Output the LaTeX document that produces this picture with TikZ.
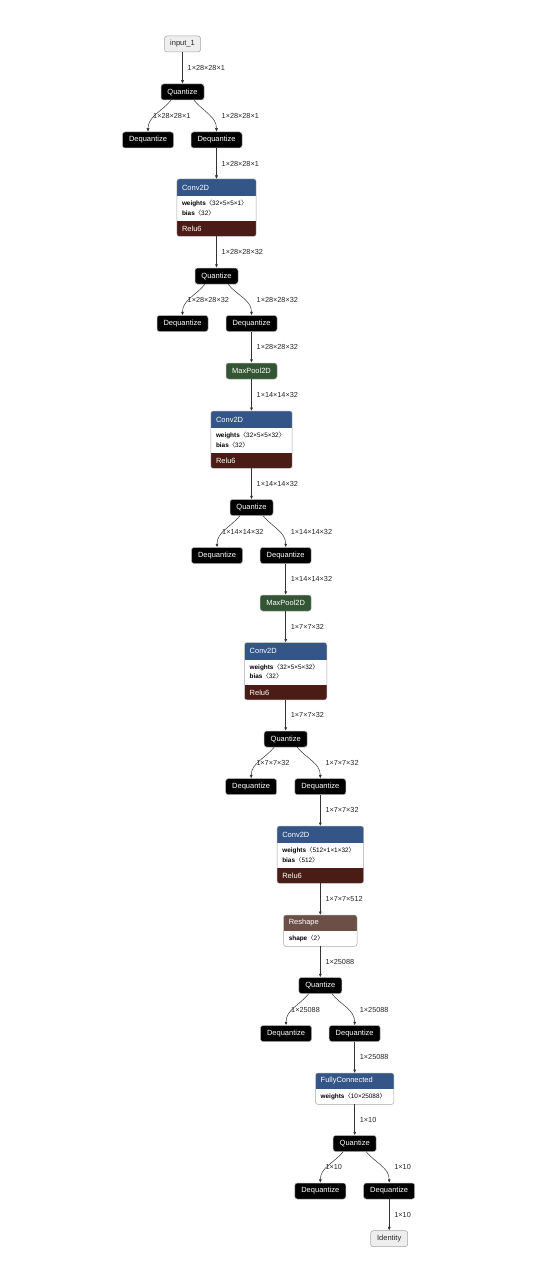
\documentclass[tikz,border=0pt]{standalone}
\usepackage{fontspec}
\setmainfont{Liberation Sans}
\newfontfamily\cjkf{Noto Sans CJK SC}
\usetikzlibrary{arrows.meta,calc}
\definecolor{layerblue}{RGB}{51,85,136}
\definecolor{actred}{RGB}{75,27,22}
\definecolor{poolgreen}{RGB}{51,85,51}
\definecolor{shapebrown}{RGB}{108,79,71}
\definecolor{iofill}{RGB}{238,238,238}
\newcommand\nodefont{\fontsize{7.5}{9}\selectfont}
\newcommand\lblfont{\fontsize{7.3}{8}\selectfont}
\newcommand\attrfont{\fontsize{6.4}{7}\selectfont}
\newcommand\br[1]{{\cjkf 〈}#1{\cjkf 〉}}
\tikzset{
  base/.style={rounded corners=2.5pt, inner sep=0pt, font=\nodefont},
  qnode/.style={base, fill=black, draw=gray!60, line width=0.5pt, text=white, minimum width=43pt, minimum height=16pt},
  dqnode/.style={qnode, minimum width=51pt},
  ionode/.style={base, fill=iofill, draw=gray!70, line width=0.5pt, text=black!85, minimum height=16pt},
  poolnode/.style={base, fill=poolgreen, draw=gray!60, line width=0.5pt, text=white, minimum width=51pt, minimum height=16pt},
  edge/.style={draw=black!80, line width=0.5pt, -{Latex[length=3.5pt,width=3pt]}},
  lbl/.style={font=\lblfont, inner sep=0pt, anchor=west, text=black!85},
  boxborder/.style={draw=gray!70, line width=0.5pt},
  hdrtext/.style={font=\nodefont, inner sep=0pt, anchor=west, text=white},
  attrtext/.style={font=\attrfont, inner sep=0pt, anchor=west, text=black},
}
% conv box: name, cx, top, width, weights, bias
\newcommand\convbox[6]{%
  \node[inner sep=0pt, minimum width=#4pt, minimum height=57pt, anchor=north] (#1) at (#2,#3) {};
  \begin{scope}
    \clip[rounded corners=2.5pt] (#1.north west) rectangle (#1.south east);
    \fill[white] (#1.north west) rectangle (#1.south east);
    \fill[layerblue] (#1.north west) rectangle ([yshift=-17pt]#1.north east);
    \fill[actred] ([yshift=15pt]#1.south west) rectangle (#1.south east);
  \end{scope}
  \draw[boxborder, rounded corners=2.5pt] (#1.north west) rectangle (#1.south east);
  \node[hdrtext] (#1-t) at ([xshift=5pt, yshift=-8.5pt]#1.north west) {Conv2D};
  \node[attrtext] (#1-w) at ([xshift=5pt, yshift=-24.5pt]#1.north west) {\textbf{weights}\br{#5}};
  \node[attrtext] (#1-b) at ([xshift=5pt, yshift=-34pt]#1.north west) {\textbf{bias}\br{#6}};
  \node[hdrtext] (#1-r) at ([xshift=5pt, yshift=7.5pt]#1.south west) {Relu6};
}
% attr box: name, cx, top, width, colour, title, attr, value
\newcommand\attrbox[8]{%
  \node[inner sep=0pt, minimum width=#4pt, minimum height=31pt, anchor=north] (#1) at (#2,#3) {};
  \begin{scope}
    \clip[rounded corners=2.5pt] (#1.north west) rectangle (#1.south east);
    \fill[white] (#1.north west) rectangle (#1.south east);
    \fill[#5] (#1.north west) rectangle ([yshift=-16pt]#1.north east);
  \end{scope}
  \draw[boxborder, rounded corners=2.5pt] (#1.north west) rectangle (#1.south east);
  \node[hdrtext] (#1-t) at ([xshift=5pt, yshift=-8pt]#1.north west) {#6};
  \node[attrtext] (#1-a) at ([xshift=5pt, yshift=-23.3pt]#1.north west) {\textbf{#7}\br{#8}};
}
% edge label: name, from, to, text
\newcommand\elabel[4]{%
  \path let \p1=(#2.south), \p2=(#3.north) in node[lbl] (#1) at (\x2+5pt,{0.5*\y1+0.5*\y2}) {#4};
}
\newcommand\split[3]{% quantize, left deq, right deq
  \draw[edge] ([xshift=-11.5pt]#1.south) to[out=-130,in=90] (#2.north);
  \draw[edge] ([xshift=11.5pt]#1.south) to[out=-50,in=90] (#3.north);
}
\begin{document}
\begin{tikzpicture}[x=1pt,y=-1pt]
\useasboundingbox[fill=white] (0,0) rectangle (546,1276);
\node[ionode, minimum width=36pt] (in1) at (182.5,44) {input\_1};
\node[qnode] (q1) at (182.5,92) {Quantize};
\node[dqnode] (d1a) at (148,140) {Dequantize};
\node[dqnode] (d1b) at (216.5,140) {Dequantize};
\convbox{c1}{216.5}{179}{79}{32×5×5×1}{32}
\node[qnode] (q2) at (216.5,276) {Quantize};
\node[dqnode] (d2a) at (182.5,323.5) {Dequantize};
\node[dqnode] (d2b) at (251.5,323.5) {Dequantize};
\node[poolnode] (m1) at (251.5,371) {MaxPool2D};
\convbox{c2}{251.5}{411}{81}{32×5×5×32}{32}
\node[qnode] (q3) at (251.5,507.5) {Quantize};
\node[dqnode] (d3a) at (217,555.5) {Dequantize};
\node[dqnode] (d3b) at (285.7,555.5) {Dequantize};
\node[poolnode] (m2) at (285.7,603) {MaxPool2D};
\convbox{c3}{285.7}{642.5}{82}{32×5×5×32}{32}
\node[qnode] (q4) at (285.7,739) {Quantize};
\node[dqnode] (d4a) at (251.2,786.7) {Dequantize};
\node[dqnode] (d4b) at (320.3,786.7) {Dequantize};
\convbox{c4}{320.3}{826}{86}{512×1×1×32}{512}
\attrbox{rs}{320.3}{915}{73}{shapebrown}{Reshape}{shape}{2}
\node[qnode] (q5) at (320.3,985.5) {Quantize};
\node[dqnode] (d5a) at (286,1033.5) {Dequantize};
\node[dqnode] (d5b) at (354.7,1033.5) {Dequantize};
\attrbox{fc}{354.7}{1073}{78}{layerblue}{FullyConnected}{weights}{10×25088}
\node[qnode] (q6) at (354.7,1143.5) {Quantize};
\node[dqnode] (d6a) at (320.3,1191) {Dequantize};
\node[dqnode] (d6b) at (389.2,1191) {Dequantize};
\node[ionode, minimum width=37pt] (id) at (389.2,1238.7) {Identity};
% edges
\draw[edge] (in1) -- (q1);
\split{q1}{d1a}{d1b}
\draw[edge] (d1b) -- (c1);
\draw[edge] (c1) -- (q2);
\split{q2}{d2a}{d2b}
\draw[edge] (d2b) -- (m1);
\draw[edge] (m1) -- (c2);
\draw[edge] (c2) -- (q3);
\split{q3}{d3a}{d3b}
\draw[edge] (d3b) -- (m2);
\draw[edge] (m2) -- (c3);
\draw[edge] (c3) -- (q4);
\split{q4}{d4a}{d4b}
\draw[edge] (d4b) -- (c4);
\draw[edge] (c4) -- (rs);
\draw[edge] (rs) -- (q5);
\split{q5}{d5a}{d5b}
\draw[edge] (d5b) -- (fc);
\draw[edge] (fc) -- (q6);
\split{q6}{d6a}{d6b}
\draw[edge] (d6b) -- (id);
% labels
\elabel{l1}{in1}{q1}{1×28×28×1}
\elabel{l2}{q1}{d1a}{1×28×28×1}
\elabel{l3}{q1}{d1b}{1×28×28×1}
\elabel{l4}{d1b}{c1}{1×28×28×1}
\elabel{l5}{c1}{q2}{1×28×28×32}
\elabel{l6}{q2}{d2a}{1×28×28×32}
\elabel{l7}{q2}{d2b}{1×28×28×32}
\elabel{l8}{d2b}{m1}{1×28×28×32}
\elabel{l9}{m1}{c2}{1×14×14×32}
\elabel{l10}{c2}{q3}{1×14×14×32}
\elabel{l11}{q3}{d3a}{1×14×14×32}
\elabel{l12}{q3}{d3b}{1×14×14×32}
\elabel{l13}{d3b}{m2}{1×14×14×32}
\elabel{l14}{m2}{c3}{1×7×7×32}
\elabel{l15}{c3}{q4}{1×7×7×32}
\elabel{l16}{q4}{d4a}{1×7×7×32}
\elabel{l17}{q4}{d4b}{1×7×7×32}
\elabel{l18}{d4b}{c4}{1×7×7×32}
\elabel{l19}{c4}{rs}{1×7×7×512}
\elabel{l20}{rs}{q5}{1×25088}
\elabel{l21}{q5}{d5a}{1×25088}
\elabel{l22}{q5}{d5b}{1×25088}
\elabel{l23}{d5b}{fc}{1×25088}
\elabel{l24}{fc}{q6}{1×10}
\elabel{l25}{q6}{d6a}{1×10}
\elabel{l26}{q6}{d6b}{1×10}
\elabel{l27}{d6b}{id}{1×10}
\end{tikzpicture}
\end{document}
